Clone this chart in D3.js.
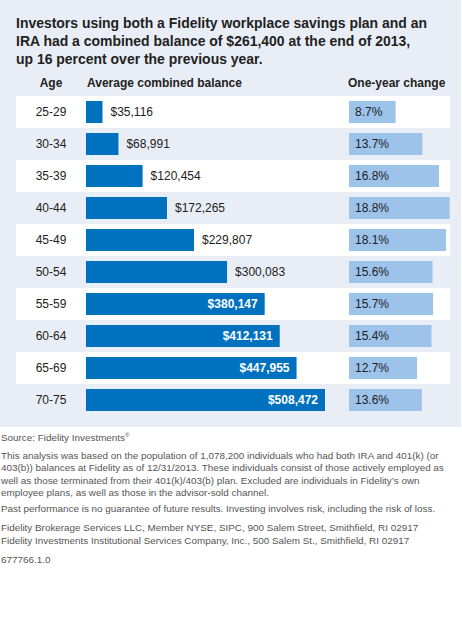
<!DOCTYPE html>
<html>
<head>
<meta charset="utf-8">
<script src="https://cdn.jsdelivr.net/npm/d3@7"></script>
<style>
  html, body { margin: 0; padding: 0; background: #fff; }
  svg text { font-family: Arial, "Liberation Sans", sans-serif; }
</style>
</head>
<body>
<div id="chart"></div>
<script>
// datos
const ages = ["25-29", "30-34", "35-39", "40-44", "45-49", "50-54", "55-59", "60-64", "65-69", "70-75"];
const balances = [35116, 68991, 120454, 172265, 229807, 300083, 380147, 412131, 447955, 508472];
const changes = [8.7, 13.7, 16.8, 18.8, 18.1, 15.6, 15.7, 15.4, 12.7, 13.6];

const titleLines = [
  "Investors using both a Fidelity workplace savings plan and an",
  "IRA had a combined balance of $261,400 at the end of 2013,",
  "up 16 percent over the previous year."
];
const headers = ["Age", "Average combined balance", "One-year change"];
const noteLines = [
  "This analysis was based on the population of 1,078,200 individuals who had both IRA and 401(k) (or",
  "403(b)) balances at Fidelity as of 12/31/2013. These individuals consist of those actively employed as",
  "well as those terminated from their 401(k)/403(b) plan. Excluded are individuals in Fidelity\u2019s own",
  "employee plans, as well as those in the advisor-sold channel."
];
const disclaimer = "Past performance is no guarantee of future results. Investing involves risk, including the risk of loss.";
const addressLines = [
  "Fidelity Brokerage Services LLC, Member NYSE, SIPC, 900 Salem Street, Smithfield, RI 02917",
  "Fidelity Investments Institutional Services Company, Inc., 500 Salem St., Smithfield, RI 02917"
];
const docId = "677766.1.0";

const W = 462, H = 620;
const BLUE = "#0071bf", LIGHT = "#9dc3eb", PANEL = "#e9eef6", INK = "#222", GREY = "#555";

const rows = ages.map((a, i) => ({ age: a, bal: balances[i], chg: changes[i], i }));

const svg = d3.select("#chart").append("svg")
  .attr("width", W).attr("height", H)
  .attr("viewBox", `0 0 ${W} ${H}`);

// panel de fondo
svg.append("rect").attr("x", 0).attr("y", 0).attr("width", 461).attr("height", 427).attr("fill", PANEL);

// título: se mide la primera línea y se ajusta el cuerpo para que ocupe ~411 px
const title = svg.append("g").attr("font-weight", "bold").attr("fill", INK).attr("font-size", 15.4);
const tl = title.selectAll("text").data(titleLines).join("text")
  .attr("x", 16).attr("y", (d, i) => 27.5 + i * 18.4)
  .text(d => d);
const w0 = tl.node().getComputedTextLength();
title.attr("font-size", Math.min(15.4, 15.4 * 411 / w0));

// escalas
const y = d3.scaleBand().domain(ages).range([96, 416])
  .paddingInner(0.3125).paddingOuter(0.15625);
const step = y.step();
const x = d3.scaleLinear().domain([0, 508472]).range([86, 325]);
const xc = d3.scaleLinear().domain([0, 18.8]).range([349, 449.7]);

// encabezados
const hdr = svg.append("g").attr("font-size", 12).attr("font-weight", "bold").attr("fill", INK);
hdr.append("text").attr("x", 51).attr("y", 87).attr("text-anchor", "middle").text(headers[0]);
hdr.append("text").attr("x", 87).attr("y", 87).text(headers[1]);
hdr.append("text").attr("x", 348).attr("y", 87).text(headers[2]);

// filas alternas blancas
const rowTop = d => y(d.age) - (step - y.bandwidth()) / 2;
svg.append("g").selectAll("rect").data(rows.filter(d => d.i % 2 === 0)).join("rect")
  .attr("x", 16).attr("width", 434)
  .attr("y", rowTop).attr("height", step)
  .attr("fill", "#fff");

const cy = d => y(d.age) + y.bandwidth() / 2;

// edades
svg.append("g").selectAll("text").data(rows).join("text")
  .attr("x", 51).attr("y", cy).attr("dy", "0.36em")
  .attr("text-anchor", "middle").attr("font-size", 12).attr("fill", INK)
  .text(d => d.age);

// barras de saldo
svg.append("g").selectAll("rect").data(rows).join("rect")
  .attr("x", x(0)).attr("y", d => y(d.age))
  .attr("width", d => x(d.bal) - x(0)).attr("height", y.bandwidth())
  .attr("fill", BLUE);

const fmt = d => "$" + d3.format(",")(d);
const inside = d => d.bal >= 380000;
svg.append("g").selectAll("text").data(rows).join("text")
  .attr("x", d => inside(d) ? x(d.bal) - 7 : x(d.bal) + 8)
  .attr("y", cy).attr("dy", "0.36em")
  .attr("text-anchor", d => inside(d) ? "end" : "start")
  .attr("font-size", 12)
  .attr("font-weight", d => inside(d) ? "bold" : "normal")
  .attr("fill", d => inside(d) ? "#fff" : INK)
  .text(d => fmt(d.bal));

// barras de variación anual
svg.append("g").selectAll("rect").data(rows).join("rect")
  .attr("x", xc(0)).attr("y", d => y(d.age))
  .attr("width", d => xc(d.chg) - xc(0)).attr("height", y.bandwidth())
  .attr("fill", LIGHT);

svg.append("g").selectAll("text").data(rows).join("text")
  .attr("x", xc(0) + 6).attr("y", cy).attr("dy", "0.36em")
  .attr("font-size", 12).attr("fill", INK)
  .text(d => d.chg.toFixed(1) + "%");

// pie de página
const foot = svg.append("g").attr("font-size", 9.9).attr("fill", GREY);
const src = foot.append("text").attr("x", 1).attr("y", 440.7).text("Source: Fidelity Investments");
src.append("tspan").attr("font-size", 6).attr("dy", -3.5).text("\u00ae");

foot.selectAll("text.note").data(noteLines).join("text").attr("class", "note")
  .attr("x", 1).attr("y", (d, i) => 458.7 + i * 12.5).text(d => d);
foot.append("text").attr("x", 1).attr("y", 512.3).text(disclaimer);
foot.selectAll("text.addr").data(addressLines).join("text").attr("class", "addr")
  .attr("x", 1).attr("y", (d, i) => 531 + i * 13.3).text(d => d);
foot.append("text").attr("x", 1).attr("y", 562.5).text(docId);
</script>
</body>
</html>
